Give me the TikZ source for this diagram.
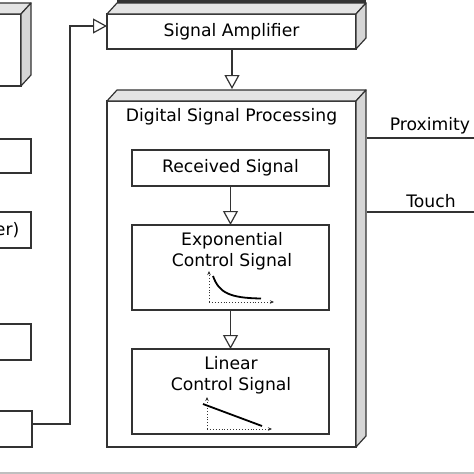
\documentclass[tikz,border=0pt]{standalone}
\usepackage{fontspec}
\setmainfont{DejaVu Sans}
\usetikzlibrary{arrows.meta}
\definecolor{lc}{HTML}{333333}
\definecolor{topf}{HTML}{E4E4E4}
\definecolor{sidef}{HTML}{D6D6D6}
\newcommand\lblfont{\fontsize{17.2}{21}\selectfont}
\tikzset{
  frontbox/.style={draw=lc, line width=1.2pt, fill=white, inner sep=0pt, outer sep=0pt, font=\lblfont, align=center},
  topface/.style={draw=lc, line width=1.2pt, fill=topf, line join=round},
  sideface/.style={draw=lc, line width=1.2pt, fill=sidef, line join=round},
  conn/.style={draw=lc, line width=1.2pt},
  opentip/.style={-{Triangle[open, length=14pt, width=15pt, line width=1.2pt]}},
  lbl/.style={font=\lblfont, inner sep=0pt, text=black},
  axis/.style={draw=lc, line width=0.9pt, dotted, -{Stealth[length=4pt, width=3.5pt]}},
  curve/.style={draw=black, line width=1.8pt},
}
\newcommand\depthfaces[1]{%
  \draw[topface] (#1.north west) -- ++(10,-11) -- ([shift={(10,-11)}]#1.north east) -- (#1.north east) -- cycle;
  \draw[sideface] (#1.north east) -- ++(10,-11) -- ([shift={(10,-11)}]#1.south east) -- (#1.south east) -- cycle;
}
\begin{document}
\begin{tikzpicture}[x=1pt, y=-1pt]
\clip (0,0) rectangle (474,474);
\useasboundingbox (0,0) rectangle (474,474);
\fill[white] (0,0) rectangle (474,474);
% cut-off element at top
\fill[lc] (117,0) rectangle (366,2.5);
% bottom bar
\fill[black!25] (0,472) rectangle (474,474);

% left column (cut off)
\node[frontbox, minimum width=81pt, minimum height=72pt] (l1) at (-19.5,50) {};
\depthfaces{l1}
\node[frontbox, minimum width=91pt, minimum height=34pt] (l2) at (-14.5,156) {};
\node[frontbox, minimum width=91pt, minimum height=36pt] (l3) at (-14.5,230) {};
\node[lbl, anchor=east] (l3t) at (19.5,230) {er)};
\node[frontbox, minimum width=91pt, minimum height=36pt] (l4) at (-14.5,342) {};
\node[frontbox, minimum width=92pt, minimum height=36pt] (l5) at (-14,429) {};

% signal amplifier
\node[frontbox, minimum width=249pt, minimum height=35pt] (sa) at (231.5,31.5) {Signal Amplifier};
\depthfaces{sa}

% DSP
\node[frontbox, minimum width=249pt, minimum height=346pt] (dsp) at (231.5,274) {};
\depthfaces{dsp}
\node[lbl] (dspt) at (231.5,117) {Digital Signal Processing};

\node[frontbox, minimum width=197pt, minimum height=36pt] (rs) at (230.5,168) {Received Signal};
\node[frontbox, minimum width=197pt, minimum height=85pt] (ex) at (230.5,267.5) {};
\node[lbl, align=center] (ext) at (232,251) {Exponential\\Control Signal};
\node[frontbox, minimum width=197pt, minimum height=85pt] (li) at (230.5,391.5) {};
\node[lbl, align=center] (lit) at (231,375) {Linear\\Control Signal};

% mini graphs
\coordinate (exo) at (209,302);
\draw[axis] (exo) -- (209,271);
\draw[axis] (exo) -- (274,302);
\draw[curve] (213,276) .. controls (219,293) and (230,298) .. (261,298.5);
\coordinate (lio) at (207,429);
\draw[axis] (lio) -- (207,397);
\draw[axis] (lio) -- (272,429);
\draw[curve] (203,404) -- (262,426);

% connectors
\coordinate (j1) at (70,424);
\coordinate (j2) at (70,26);
\coordinate (saIn) at (107,26);
\draw[conn, opentip] (l5.east |- j1) -- (j1) -- (j2) -- (saIn);
\coordinate (dspTop) at (232,89);
\draw[conn, opentip] (sa.south -| dspTop) -- (dspTop);
\draw[conn, opentip] (rs.south) -- (ex.north);
\draw[conn, opentip] (ex.south) -- (li.north);

% outputs
\coordinate (px0) at (367,138);
\coordinate (px1) at (474,138);
\coordinate (tc0) at (367,212);
\coordinate (tc1) at (474,212);
\draw[conn] (px0) -- (px1);
\draw[conn] (tc0) -- (tc1);
\node[lbl] (pxt) at (430,126) {Proximity};
\node[lbl] (tct) at (431,201) {Touch};
\end{tikzpicture}
\end{document}
